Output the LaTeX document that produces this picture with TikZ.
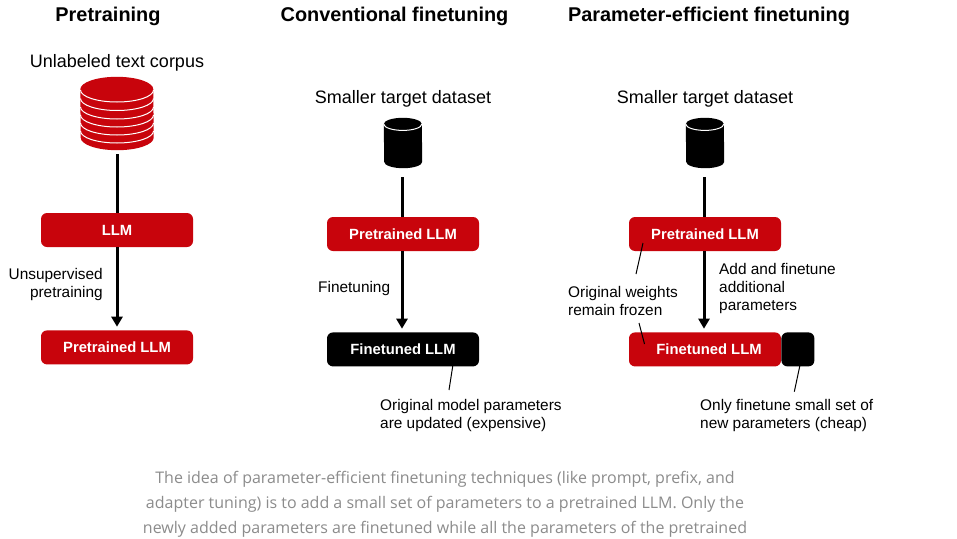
\documentclass[tikz,border=0pt]{standalone}
\usepackage{fontspec}
\setmainfont{Liberation Sans}
\newfontfamily\captionfont{Open Sans}
\usetikzlibrary{arrows.meta,positioning}
\definecolor{llmred}{HTML}{C8040C}
\definecolor{captiongray}{HTML}{8C8C8C}
\tikzset{
    llm/.style={draw=none, fill=llmred, rounded corners=6pt, minimum width=152pt, minimum height=34pt,
        text=white, font=\fontsize{14.8}{15}\selectfont\bfseries, inner sep=0pt,
        text height=10.6pt, text depth=0pt},
    dark/.style={llm, fill=black},
    title/.style={font=\fontsize{19.9}{20}\selectfont\bfseries, inner sep=0pt},
    heading/.style={font=\fontsize{18}{18}\selectfont, inner sep=0pt},
    note/.style={font=\fontsize{15.4}{18}\selectfont, align=left, inner sep=0pt},
    flow/.style={line width=3pt, -{Triangle[length=10pt,width=11pt]}, shorten >=3.5pt},
    plain/.style={line width=3pt},
    pointer/.style={line width=1pt},
    disk/.style={minimum width=38pt, minimum height=50pt, inner sep=0pt},
}
\newcommand{\datadisk}[1]{
    \fill ([yshift=-6.3pt]#1.north west) arc[start angle=180, end angle=0, x radius=19, y radius=6.3]
        -- ([yshift=6.3pt]#1.south east) arc[start angle=0, end angle=-180, x radius=19, y radius=6.3] -- cycle;
    \draw[white, line width=1pt] ([yshift=-6.3pt]#1.north west) arc[start angle=180, end angle=360, x radius=19, y radius=6.3];
}
\begin{document}
\begin{tikzpicture}[x=1pt,y=1pt]
    \useasboundingbox (0,0) rectangle (957,-538);
    \fill[white] (0,0) rectangle (957,-538);

    % column titles
    \node[title] (t1) at (108,-16) {Pretraining};
    \node[title] (t2) at (394.5,-16) {Conventional finetuning};
    \node[title] (t3) at (709,-16) {Parameter-efficient finetuning};

    % pretraining
    \node[heading] (corpus) at (117,-63) {Unlabeled text corpus};
    \node[minimum width=73pt, minimum height=73pt, inner sep=0pt] (stack) at (117,-113.5) {};
    \fill[llmred] ([yshift=-12.5pt]stack.north west) arc[start angle=180, end angle=0, x radius=36.5, y radius=12.5]
        -- ([yshift=12.5pt]stack.south east) arc[start angle=0, end angle=-180, x radius=36.5, y radius=12.5] -- cycle;
    \foreach \y in {90,98.5,107,115,123,131} {
        \draw[white, line width=1pt] (80.5,-\y) arc[start angle=180, end angle=360, x radius=36.5, y radius=12];
    }
    \coordinate[below=4pt of stack] (stackout);
    \node[llm] (llm1) at (117,-230) {LLM};
    \node[llm, below=83pt of llm1] (pre1) {Pretrained LLM};
    \draw[plain] (stackout) -- (llm1);
    \draw[flow] (llm1) -- (pre1);
    \node[note, align=right, anchor=east] (unsup) at (103,-285) {Unsupervised\\pretraining};

    % conventional
    \node[heading] (set2) at (403,-99) {Smaller target dataset};
    \node[disk] (disk2) at (403,-143) {};
    \datadisk{disk2}
    \coordinate[below=9pt of disk2] (out2);
    \node[llm] (pre2) at (403,-234) {Pretrained LLM};
    \node[dark, below=81pt of pre2] (fin2) {Finetuned LLM};
    \draw[plain] ([xshift=-1pt]out2) -- ([xshift=-1pt]pre2.north);
    \draw[flow] ([xshift=-1pt]pre2.south) -- ([xshift=-1pt]fin2.north);
    \node[note, anchor=west] (ft) at (318,-289) {Finetuning};
    \node[note, anchor=north west] (orig2) at (380,-399) {Original model parameters\\are updated (expensive)};
    \coordinate (orig2top) at (449,-390);
    \coordinate (fin2pt) at (454,-358);
    \draw[pointer] (orig2top) -- (fin2pt);

    % parameter-efficient
    \node[heading] (set3) at (705,-99) {Smaller target dataset};
    \node[disk] (disk3) at (705,-143) {};
    \datadisk{disk3}
    \coordinate[below=9pt of disk3] (out3);
    \node[llm] (pre3) at (705,-234) {Pretrained LLM};
    \node[llm, below=81pt of pre3] (fin3) {\hspace{8pt}Finetuned LLM};
    \node[dark, minimum width=33pt, anchor=west] (extra) at (fin3.east) {};
    \draw[plain] ([xshift=-1pt]out3) -- ([xshift=-1pt]pre3.north);
    \draw[flow] ([xshift=-1pt]pre3.south) -- ([xshift=-1pt]fin3.north);
    \node[note, anchor=north west] (addft) at (719,-263) {Add and finetune\\additional\\parameters};
    \node[note, anchor=north west] (frozen) at (568,-286) {Original weights\\remain frozen};
    \coordinate (frozena) at (636,-274);
    \coordinate (frozenb) at (643,-243);
    \coordinate (frozenc) at (639,-323);
    \coordinate (frozend) at (644.5,-344);
    \draw[pointer] (frozena) -- (frozenb);
    \draw[pointer] (frozenc) -- (frozend);
    \node[note, anchor=north west] (only) at (700,-399) {Only finetune small set of\\new parameters (cheap)};
    \coordinate (onlytop) at (794.3,-391.7);
    \coordinate (extrapt) at (800.7,-361.7);
    \draw[pointer] (onlytop) -- (extrapt);

    % caption
    \node[text=captiongray, font=\captionfont\fontsize{16}{25}\selectfont, align=center, inner sep=0pt, anchor=north] (caption) at (445,-471.5)
        {The idea of parameter-efficient finetuning techniques (like prompt, prefix, and\\
         adapter tuning) is to add a small set of parameters to a pretrained LLM. Only the\\
         newly added parameters are finetuned while all the parameters of the pretrained};
\end{tikzpicture}
\end{document}
